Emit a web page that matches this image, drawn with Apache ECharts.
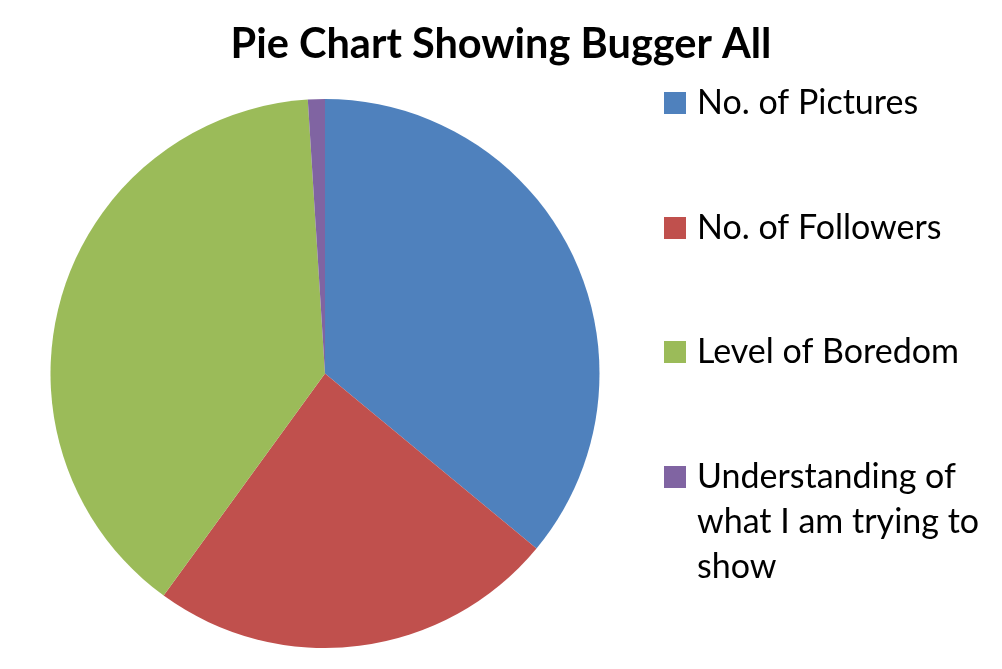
<!DOCTYPE html>
<html>
<head>
<meta charset="utf-8">
<script src="https://cdn.jsdelivr.net/npm/echarts@6/dist/echarts.min.js"></script>
<style>
html,body{margin:0;padding:0;background:#fff;}
#c{width:1002px;height:669px;}
</style>
</head>
<body>
<div id="c"></div>
<script>
const titleText = 'Pie Chart Showing Bugger All';
const categories = ['No. of Pictures', 'No. of Followers', 'Level of Boredom', 'Understanding of what I am trying to show'];
const values = [36, 24, 39, 1];
const colors = ['#4F81BD', '#C0504D', '#9BBB59', '#8064A2'];
const legendLabels = ['No. of Pictures', 'No. of Followers', 'Level of Boredom', '\n\nUnderstanding of\nwhat I am trying to\nshow'];

const FONT = 'Lato';
const legendFont = 34;
const lineH = 45;
const iconCenters = [103, 228, 352, 477];

const chart = echarts.init(document.getElementById('c'), null, {renderer: 'canvas'});

const legends = categories.map((name, i) => {
  const nLines = legendLabels[i].split('\n').length;
  return {
    orient: 'vertical',
    left: 664,
    top: iconCenters[i] - nLines * lineH / 2,
    padding: 0,
    itemWidth: 22,
    itemHeight: 22,
    icon: 'rect',
    selectedMode: false,
    data: [name],
    formatter: function () { return legendLabels[i]; },
    textStyle: {
      fontFamily: FONT,
      fontSize: legendFont,
      color: '#000',
      lineHeight: lineH,
      padding: [0, 0, 0, 6]
    }
  };
});

chart.setOption({
  animation: false,
  backgroundColor: '#fff',
  color: colors,
  title: {
    text: titleText,
    left: 'center',
    top: 24,
    padding: 0,
    textStyle: {
      fontFamily: FONT,
      fontWeight: 'bold',
      fontSize: 41.5,
      color: '#000'
    }
  },
  legend: legends,
  series: [{
    type: 'pie',
    center: [325, 373.5],
    radius: 274.5,
    startAngle: 90,
    clockwise: true,
    label: {show: false},
    labelLine: {show: false},
    itemStyle: {borderWidth: 0},
    emphasis: {disabled: true},
    data: categories.map((n, i) => ({name: n, value: values[i]}))
  }]
});
</script>
</body>
</html>
